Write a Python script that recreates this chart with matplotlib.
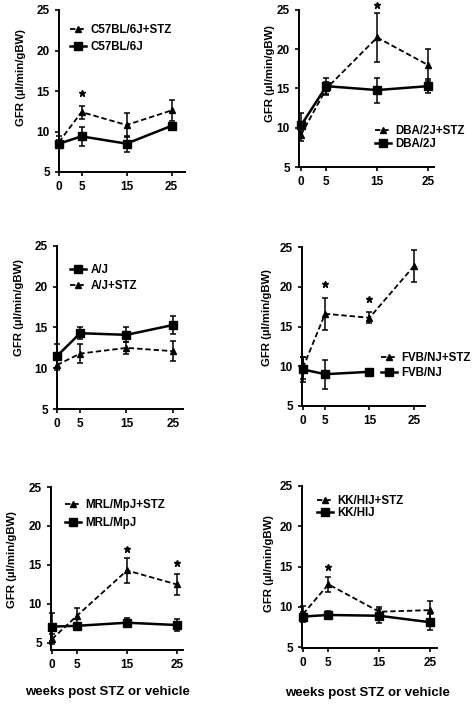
import matplotlib.pyplot as plt

plt.rcParams['font.family'] = ['Liberation Sans', 'DejaVu Sans']
plt.rcParams['font.weight'] = 'bold'

W, H = 474, 704

weeks = [0, 5, 15, 25]

# C57BL/6J
c57_stz = [8.7, 12.4, 10.8, 12.6]
c57_stz_err = [0.7, 0.8, 1.5, 1.3]
c57_ctl = [8.5, 9.4, 8.5, 10.7]
c57_ctl_err = [0.5, 1.2, 1.0, 0.4]
c57_star_x = [5]
c57_star_y = [14.7]

# DBA/2J
dba_stz = [9.1, 15.0, 21.5, 18.0]
dba_stz_err = [0.8, 0.8, 3.1, 2.0]
dba_ctl = [10.3, 15.3, 14.8, 15.3]
dba_ctl_err = [1.6, 1.0, 1.6, 0.9]
dba_star_x = [15]
dba_star_y = [25.7]

# A/J
aj_ctl = [11.5, 14.3, 14.1, 15.3]
aj_ctl_err = [1.5, 0.7, 0.9, 1.1]
aj_stz = [10.4, 11.8, 12.5, 12.1]
aj_stz_err = [0.6, 1.2, 0.7, 1.2]

# FVB/NJ (no vehicle point at week 25)
fvb_stz = [9.8, 16.6, 16.1, 22.6]
fvb_stz_err = [1.4, 2.0, 0.7, 2.0]
fvb_weeks_ctl = [0, 5, 15]
fvb_ctl = [9.6, 9.0, 9.3]
fvb_ctl_err = [1.6, 1.8, 0.3]
fvb_star_x = [5, 15]
fvb_star_y = [20.3, 18.5]

# MRL/MpJ
mrl_stz = [5.5, 8.5, 14.3, 12.5]
mrl_stz_err = [0.6, 1.0, 1.6, 1.3]
mrl_ctl = [7.1, 7.2, 7.6, 7.3]
mrl_ctl_err = [1.8, 0.3, 0.6, 0.8]
mrl_star_x = [15, 25]
mrl_star_y = [17.0, 15.3]

# KK/HIJ
kk_stz = [9.1, 12.8, 9.4, 9.6]
kk_stz_err = [1.0, 0.9, 0.6, 1.1]
kk_ctl = [8.8, 9.0, 8.9, 8.1]
kk_ctl_err = [0.6, 0.5, 0.9, 1.0]
kk_star_x = [5]
kk_star_y = [14.9]

panels = [
    dict(name='C57BL/6J', stz=c57_stz, stz_err=c57_stz_err, ctl_x=weeks,
         ctl=c57_ctl, ctl_err=c57_ctl_err, sx=c57_star_x, sy=c57_star_y,
         box=(59, 185, 10, 172), xlim=(0, 28), ylim=(5, 25), stz_first=True,
         leg=(70, 38.5, 18.7), ylab=(21, 78), xlab=None),
    dict(name='DBA/2J', stz=dba_stz, stz_err=dba_stz_err, ctl_x=weeks,
         ctl=dba_ctl, ctl_err=dba_ctl_err, sx=dba_star_x, sy=dba_star_y,
         box=(299, 434, 10, 167), xlim=(-0.4, 26.2), ylim=(5, 25), stz_first=True,
         leg=(375, 137.5, 13.5), ylab=(270, 73), xlab=None),
    dict(name='A/J', stz=aj_stz, stz_err=aj_stz_err, ctl_x=weeks,
         ctl=aj_ctl, ctl_err=aj_ctl_err, sx=[], sy=[],
         box=(57, 183, 246, 409), xlim=(0, 27.2), ylim=(5, 25), stz_first=False,
         leg=(70, 278, 18), ylab=(19, 307), xlab=None),
    dict(name='FVB/NJ', stz=fvb_stz, stz_err=fvb_stz_err, ctl_x=fvb_weeks_ctl,
         ctl=fvb_ctl, ctl_err=fvb_ctl_err, sx=fvb_star_x, sy=fvb_star_y,
         box=(302, 425, 247, 406), xlim=(-0.2, 27.5), ylim=(5, 25), stz_first=True,
         leg=(381, 365.5, 16.7), ylab=(267, 318), xlab=None),
    dict(name='MRL/MpJ', stz=mrl_stz, stz_err=mrl_stz_err, ctl_x=weeks,
         ctl=mrl_ctl, ctl_err=mrl_ctl_err, sx=mrl_star_x, sy=mrl_star_y,
         box=(51, 183, 487, 650), xlim=(-0.2, 26.2), ylim=(4.1, 25), stz_first=True,
         leg=(65, 514, 19.7), ylab=(12.5, 560), xlab=(107, 692)),
    dict(name='KK/HIJ', stz=kk_stz, stz_err=kk_stz_err, ctl_x=weeks,
         ctl=kk_ctl, ctl_err=kk_ctl_err, sx=kk_star_x, sy=kk_star_y,
         box=(302, 437, 486, 648), xlim=(-0.2, 26.4), ylim=(4.9, 25), stz_first=True,
         leg=(317, 507, 14.2), ylab=(269, 563), xlab=(367, 693)),
]

fig = plt.figure(figsize=(W / 100, H / 100), dpi=100)
leg_fs = 8.3
leg_px = leg_fs * 100 / 72

for p in panels:
    left, right, top, bottom = p['box']
    ax = fig.add_axes([left / W, 1 - bottom / H, (right - left) / W, (bottom - top) / H])

    # diabetic group: dashed line, triangles
    stz_line = ax.errorbar(weeks, p['stz'], yerr=p['stz_err'], color='black',
                           linestyle=(0, (3, 1.6)), linewidth=1.3, marker='^',
                           markersize=4.8, elinewidth=1.1, capsize=2, capthick=1.1,
                           clip_on=False)
    # vehicle group: solid line, squares
    ctl_line = ax.errorbar(p['ctl_x'], p['ctl'], yerr=p['ctl_err'], color='black',
                           linestyle='-', linewidth=1.8, marker='s',
                           markersize=5.5, elinewidth=1.1, capsize=2, capthick=1.1,
                           clip_on=False)
    for artist in stz_line.get_children() + ctl_line.get_children():
        artist.set_clip_on(False)

    # significance marks
    ax.plot(p['sx'], p['sy'], linestyle='none', marker='*', markersize=5,
            color='black', clip_on=False)

    ax.set_xlim(*p['xlim'])
    ax.set_ylim(*p['ylim'])
    ax.set_xticks(weeks)
    ax.set_yticks([5, 10, 15, 20, 25])
    ax.spines['top'].set_visible(False)
    ax.spines['right'].set_visible(False)
    ax.spines['left'].set_linewidth(1.4)
    ax.spines['bottom'].set_linewidth(1.4)
    ax.tick_params(length=3, width=1.2, labelsize=8.5, pad=3.5)
    for lab in ax.get_xticklabels() + ax.get_yticklabels():
        lab.set_fontweight('bold')

    h_stz = stz_line.lines[0]
    h_ctl = ctl_line.lines[0]
    if p['stz_first']:
        handles = [h_stz, h_ctl]
        labels = [p['name'] + '+STZ', p['name']]
    else:
        handles = [h_ctl, h_stz]
        labels = [p['name'], p['name'] + '+STZ']
    lx, ly, spacing = p['leg']
    ax.legend(handles, labels, loc='center left', frameon=False,
              bbox_to_anchor=(lx / W, 1 - ly / H), bbox_transform=fig.transFigure,
              borderpad=0, borderaxespad=0, handlelength=1.4, handletextpad=0.4,
              labelspacing=(spacing - 1.16 * leg_px) / leg_px,
              prop={'size': leg_fs, 'weight': 'bold'})

    yx, yy = p['ylab']
    fig.text(yx / W, 1 - yy / H, 'GFR (µl/min/gBW)', rotation=90, ha='center',
             va='center', fontsize=8.2, fontweight='bold')
    if p['xlab'] is not None:
        xx, xy = p['xlab']
        fig.text(xx / W, 1 - xy / H, 'weeks post STZ or vehicle', ha='center',
                 va='center', fontsize=9.5, fontweight='bold')

fig.savefig('out.png', dpi=100)
